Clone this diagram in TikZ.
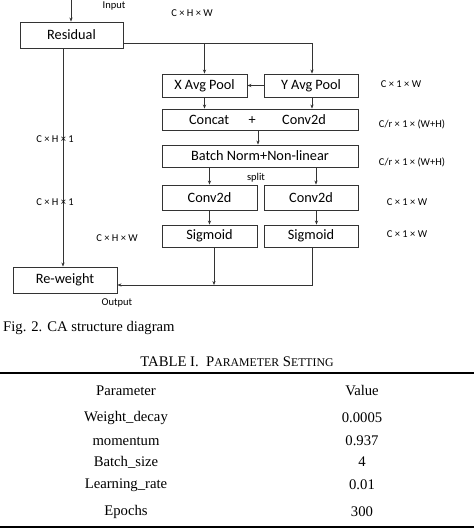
\documentclass[tikz,border=0pt]{standalone}
\usepackage{fontspec}
\setmainfont{Liberation Serif}
\newfontfamily\carlito{Carlito}
\usetikzlibrary{arrows.meta}
\begin{document}
\begin{tikzpicture}[x=1pt,y=-1pt,
  box/.style={draw=black!80, line width=0.9pt, inner sep=0pt, font=\carlito\fontsize{14.3}{17}\selectfont},
  lbl/.style={font=\carlito\fontsize{10.5}{12}\selectfont, inner sep=0pt},
  ln/.style={draw=black!80, line width=0.9pt},
  arr/.style={ln, -{Stealth[length=4pt,width=3.2pt]}},
  tab/.style={font=\fontsize{14.7}{17}\selectfont, inner sep=0pt}]
\useasboundingbox (0,0) rectangle (474,530);
% boxes
\node[box, minimum width=103pt, minimum height=26pt] (res) at (71.5,35) {Residual};
\node[box, minimum width=85pt, minimum height=23pt] (xap) at (204.5,85.5) {X Avg Pool};
\node[box, minimum width=94pt, minimum height=23pt] (yap) at (311,85.5) {Y Avg Pool};
\node[box, minimum width=196pt, minimum height=21pt] (cc) at (260,119.5) {\hspace{-5pt}Concat\hspace{19.5pt}+\hspace{26.4pt}Conv2d};
\node[box, minimum width=196pt, minimum height=22pt] (bn) at (260,156) {Batch Norm+Non-linear};
\node[box, minimum width=95pt, minimum height=25pt] (c1) at (209.5,197.5) {Conv2d};
\node[box, minimum width=94pt, minimum height=25pt] (c2) at (311,197.5) {Conv2d};
\node[box, minimum width=95pt, minimum height=22pt] (s1) at (209.5,236) {Sigmoid};
\node[box, minimum width=94pt, minimum height=22pt] (s2) at (311,236) {Sigmoid};
\node[box, minimum width=104pt, minimum height=26pt] (rw) at (65,280) {Re-weight};
% helper coordinates
\coordinate (in) at (71,-2);
\coordinate (j1) at (312,43);
\coordinate (lx) at (63,0);
\coordinate (jy) at (0,285);
% connectors
\draw[arr] (in) -- (in |- res.north);
\draw[ln] (res.east |- j1) -- (j1);
\draw[arr] (j1) -- (j1 |- yap.north);
\draw[arr] (xap.north |- j1) -- (xap.north);
\draw[arr] (yap.west) -- (xap.east);
\draw[arr] (xap.south) -- (xap.south |- cc.north);
\draw[arr] (j1 |- yap.south) -- (j1 |- cc.north);
\draw[arr] ([xshift=-2pt]cc.south) -- ([xshift=-2pt]bn.north);
\draw[arr] (c1.north |- bn.south) -- (c1.north);
\draw[arr] ([xshift=5pt]c2.north |- bn.south) -- ([xshift=5pt]c2.north);
\draw[arr] (c1.south) -- (s1.north);
\draw[arr] ([xshift=5.5pt]c2.south) -- ([xshift=5.5pt]s2.north);
\draw[arr] ([xshift=4.5pt]s1.south) -- ([xshift=4.5pt]s1.south |- jy);
\draw[arr] (j1 |- s2.south) |- (rw.east |- jy);
\draw[arr] (lx |- res.south) -- (lx |- rw.north);
% labels
\node[lbl] (linput) at (114,5.5) {Input};
\node[lbl] (l1) at (192,13) {C × H × W};
\node[lbl] (l2) at (55,139) {C × H × 1};
\node[lbl] (l3) at (55,202) {C × H × 1};
\node[lbl] (l4) at (117,238) {C × H × W};
\node[lbl] (lout) at (117,303) {Output};
\node[lbl] (lsplit) at (256,178) {split};
\node[lbl] (r1) at (401,84) {C × 1 × W};
\node[lbl] (r2) at (412,124) {C/r × 1 × (W+H)};
\node[lbl] (r3) at (412,162) {C/r × 1 × (W+H)};
\node[lbl] (r4) at (407,202) {C × 1 × W};
\node[lbl] (r5) at (407,234) {C × 1 × W};
% caption and table
\node[tab, anchor=west] (cap) at (3,328) {Fig. 2. CA structure diagram};
\node[tab] (ttl) at (237,362) {TABLE I.\ \ P{\fontsize{11.8}{14}\selectfont ARAMETER} S{\fontsize{11.8}{14}\selectfont ETTING}};
\coordinate (rl1) at (0,373);
\coordinate (rr1) at (474,373);
\coordinate (rl2) at (0,527);
\coordinate (rr2) at (474,527);
\draw[line width=2.6pt] (rl1) -- (rr1);
\draw[line width=2.6pt] (rl2) -- (rr2);
\node[tab] (h1) at (126,391) {Parameter};
\node[tab] (h2) at (362,391) {Value};
\node[tab] (a1) at (126,418) {Weight\_decay};
\node[tab] (b1) at (362,418) {0.0005};
\node[tab] (a2) at (126,441) {momentum};
\node[tab] (b2) at (362,441) {0.937};
\node[tab] (a3) at (126,462) {Batch\_size};
\node[tab] (b3) at (362,462) {4};
\node[tab] (a4) at (126,485) {Learning\_rate};
\node[tab] (b4) at (362,485) {0.01};
\node[tab] (a5) at (126,512) {Epochs};
\node[tab] (b5) at (362,512) {300};
\end{tikzpicture}
\end{document}
